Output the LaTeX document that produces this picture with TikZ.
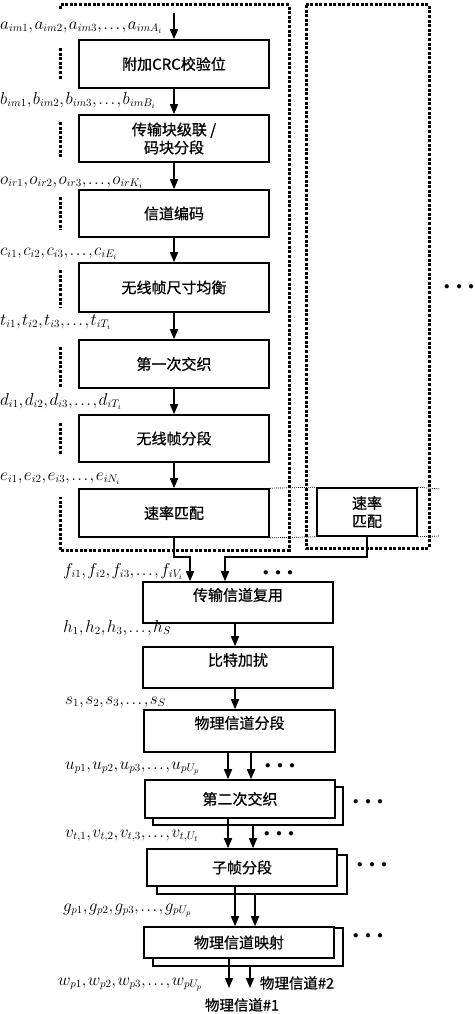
\documentclass[tikz,border=0pt]{standalone}
\usepackage{fontspec}
\newfontfamily\cjk{Noto Sans CJK SC}[FakeBold=0.7]
\usetikzlibrary{arrows.meta}
\newcommand{\labfont}{\fontsize{16}{20}\selectfont\thinmuskip=1.5mu\relax}
\tikzset{
  box/.style={draw, line width=1.6pt, fill=white, minimum width=190pt, minimum height=48pt, inner sep=0pt,
    font=\cjk\fontsize{15}{18}\selectfont, align=center},
  btext/.style={inner sep=0pt, font=\cjk\fontsize{15}{18}\selectfont},
  arr/.style={line width=1.6pt, -{Triangle[length=10pt,width=8pt]}},
  thickdot/.style={line width=3pt, dash pattern=on 3pt off 1.6pt},
  thindot/.style={line width=0.7pt, dash pattern=on 1pt off 1pt},
  lab/.style={anchor=mid west, inner sep=0pt, font=\labfont},
  dotsn/.style={inner sep=0pt, font=\fontsize{11}{11}\selectfont},
  outl/.style={inner sep=0pt, font=\cjk\fontsize{14.5}{17}\selectfont}
}
\newcommand{\threedots}{$\bullet\mkern7mu\bullet\mkern7mu\bullet$}
\begin{document}
\begin{tikzpicture}[x=1pt,y=-1pt]
\useasboundingbox (0,0) rectangle (474,1014);

% thick dotted frames
\draw[thickdot] (60,9) -- (60,5) -- (289,5) -- (289,550) -- (60,550) -- (60,497);
\foreach \a/\b in {48/80,122/157,197/230,270/308,347/388,423/455}
  \draw[thickdot] (60,\a) -- (60,\b);
\draw[thickdot] (306,5) rectangle (429,548);

% upper chain
\node[box] (b1) at (174,64) {附加CRC校验位};
\node[box, minimum height=47pt] (b2) at (174,138.5) {传输块级联 /\\码块分段};
\node[box, minimum height=47pt] (b3) at (174,213.5) {信道编码};
\node[box, minimum height=49pt] (b4) at (174,287.5) {无线帧尺寸均衡};
\node[box] (b5) at (174,364) {第一次交织};
\node[box, minimum height=47pt] (b6) at (174,438.5) {无线帧分段};
\node[box] (rm) at (174,513) {速率匹配};
\node[box, minimum width=100pt] (rm2) at (367,512) {速率\\匹配};

\coordinate (top) at (174,13);
\draw[arr] (top) -- (b1.north);
\draw[arr] (b1.south) -- (b2.north);
\draw[arr] (b2.south) -- (b3.north);
\draw[arr] (b3.south) -- (b4.north);
\draw[arr] (b4.south) -- (b5.north);
\draw[arr] (b5.south) -- (b6.north);
\draw[arr] (b6.south) -- (rm.north);

% thin dotted guides
\coordinate (g1) at (440,489);
\coordinate (g2) at (440,536);
\draw[thindot] (rm.north east) -- (rm2.north west);
\draw[thindot] (rm2.north east) -- (g1);
\draw[thindot] (rm.south east) -- (rm2.south west);
\draw[thindot] (rm2.south east) -- (g2);

% labels upper
\node[lab] (la) at (0,27) {$a_{im1},a_{im2},a_{im3},\ldots,a_{imA_i}$};
\node[lab] (lb) at (0,102) {$b_{im1},b_{im2},b_{im3},\ldots,b_{imB_i}$};
\node[lab] (lo) at (0,182) {$o_{ir1},o_{ir2},o_{ir3},\ldots,o_{irK_i}$};
\node[lab] (lc) at (0,253) {$c_{i1},c_{i2},c_{i3},\ldots,c_{iE_i}$};
\node[lab] (lt) at (0,323) {$t_{i1},t_{i2},t_{i3},\ldots,t_{iT_i}$};
\node[lab] (ld) at (0,403) {$d_{i1},d_{i2},d_{i3},\ldots,d_{iT_i}$};
\node[lab] (le) at (0,478) {$e_{i1},e_{i2},e_{i3},\ldots,e_{iN_i}$};

\node[dotsn] (dt1) at (459,287) {\threedots};

% lower chain
\node[box, minimum height=41pt] (mux) at (238,602.5) {};
\node[btext] (muxt) at (238,595) {传输信道复用};
\node[box, minimum height=41pt] (scr) at (238,667.5) {};
\node[btext] (scrt) at (238,660) {比特加扰};
\node[box, minimum width=191pt, minimum height=42pt] (pseg) at (239.5,731) {};
\node[btext] (psegt) at (239.5,723) {物理信道分段};

\node[box, minimum height=38pt] (il2b) at (248,806) {};
\node[box, minimum height=38pt] (il2) at (240,799) {第二次交织};
\node[box, minimum height=39pt] (sfb) at (252,874.5) {};
\node[box, minimum height=37pt] (sf) at (242,867.5) {子帧分段};
\node[box, minimum height=38pt] (mpb) at (248,947) {};
\node[box, minimum height=31pt] (mp) at (239,942.5) {物理信道映射};

\coordinate (ml) at (190,557);
\coordinate (mr) at (225,557);
\draw[arr] (rm.south) |- (ml) -- (ml |- mux.north);
\draw[arr] (rm2.south) |- (mr) -- (mr |- mux.north);

\coordinate (xa) at (235,0);
\draw[arr] (mux.south -| xa) -- (scr.north -| xa);
\draw[arr] (scr.south -| xa) -- (pseg.north -| xa);

\coordinate (x1) at (228,0);
\coordinate (x2) at (251,0);
\draw[arr] (pseg.south -| x1) -- (il2.north -| x1);
\draw[arr] (pseg.south -| x2) -- (il2.north -| x2);
\coordinate (x3) at (253,0);
\draw[arr] (il2.south -| x1) -- (sf.north -| x1);
\draw[arr] (il2b.south -| x3) -- (sf.north -| x3);
\coordinate (x4) at (235,0);
\coordinate (x5) at (255,0);
\draw[arr] (sf.south -| x4) -- (mp.north -| x4);
\draw[arr] (sfb.south -| x5) -- (mp.north -| x5);
\coordinate (o1) at (229,988);
\coordinate (o2) at (250,988);
\draw[arr] (mp.south -| o1) -- (o1);
\draw[arr] (mpb.south -| o2) -- (o2);

\node[outl] (ch2) at (297,983) {物理信道\#2};
\node[outl] (ch1) at (242,1005) {物理信道\#1};

% labels lower
\node[lab] (lf) at (63,573) {$f_{i1},f_{i2},f_{i3},\ldots,f_{iV_i}$};
\node[lab] (lh) at (63,630) {$h_1,h_2,h_3,\ldots,h_S$};
\node[lab] (ls) at (65,702) {$s_1,s_2,s_3,\ldots,s_S$};
\node[lab] (lu) at (65,767) {$u_{p1},u_{p2},u_{p3},\ldots,u_{pU_p}$};
\node[lab] (lv) at (65,835) {$v_{t,1},v_{t,2},v_{t,3},\ldots,v_{t,U_t}$};
\node[lab] (lg) at (63,909) {$g_{p1},g_{p2},g_{p3},\ldots,g_{pU_p}$};
\node[lab] (lw) at (58,983) {$w_{p1},w_{p2},w_{p3},\ldots,w_{pU_p}$};

\node[dotsn] (dt2) at (278,573) {\threedots};
\node[dotsn] (dt3) at (280,766) {\threedots};
\node[dotsn] (dt4) at (368,802) {\threedots};
\node[dotsn] (dt5) at (279,834) {\threedots};
\node[dotsn] (dt6) at (372,865) {\threedots};
\node[dotsn] (dt7) at (368,936) {\threedots};
\end{tikzpicture}
\end{document}
